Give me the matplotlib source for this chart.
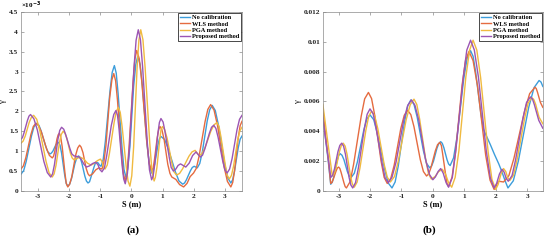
import matplotlib
matplotlib.use("Agg")
import matplotlib.pyplot as plt

plt.rcParams['font.family'] = ['Liberation Serif', 'DejaVu Serif']
plt.rcParams['font.weight'] = 'bold'
plt.rcParams['axes.unicode_minus'] = False

labels = ["No calibration", "WLS method", "PGA method", "Proposed method"]
colors = ['#3C9DDB', '#E56B40', '#F0BA40', '#9B55B4']

# panel (a): (S, gamma x 1e3)
a_blue = [(-3.56, 0.42), (-3.47, 0.51), (-3.39, 0.74), (-3.22, 1.38), (-3.14, 1.61), (-3.05, 1.70),
          (-2.98, 1.65), (-2.91, 1.51), (-2.76, 1.12), (-2.69, 0.98), (-2.62, 0.93),
          (-2.58, 0.95), (-2.53, 1.00), (-2.44, 1.15), (-2.40, 1.20), (-2.35, 1.22),
          (-2.30, 1.15), (-2.25, 0.95), (-2.15, 0.40), (-2.10, 0.19), (-2.05, 0.12),
          (-1.99, 0.17), (-1.93, 0.31), (-1.82, 0.69), (-1.76, 0.83), (-1.70, 0.88),
          (-1.65, 0.83), (-1.60, 0.71), (-1.50, 0.37), (-1.45, 0.25), (-1.40, 0.20),
          (-1.35, 0.23), (-1.31, 0.33), (-1.21, 0.59), (-1.17, 0.68), (-1.12, 0.72),
          (-1.07, 0.70), (-1.03, 0.65), (-0.98, 0.62),
          (-0.91, 0.79), (-0.84, 1.25), (-0.69, 2.52), (-0.62, 2.98), (-0.55, 3.15),
          (-0.49, 2.96), (-0.43, 2.45), (-0.30, 1.05), (-0.24, 0.54), (-0.18, 0.35),
          (-0.12, 0.55), (-0.05, 1.11), (0.07, 2.62), (0.14, 3.18), (0.20, 3.38),
          (0.28, 3.18), (0.35, 2.65), (0.50, 1.18), (0.58, 0.65), (0.65, 0.45),
          (0.70, 0.51), (0.75, 0.68), (0.85, 1.14), (0.90, 1.31), (0.95, 1.37),
          (1.07, 1.29), (1.18, 1.07), (1.42, 0.47), (1.53, 0.25), (1.65, 0.17),
          (1.71, 0.20), (1.77, 0.28), (1.90, 0.51), (1.96, 0.59), (2.02, 0.62), (2.12, 0.58),
          (2.20, 0.69), (2.28, 0.97), (2.44, 1.76), (2.52, 2.04), (2.60, 2.15),
          (2.70, 2.02), (2.80, 1.66), (3.00, 0.69), (3.10, 0.33), (3.20, 0.20),
          (3.26, 0.28), (3.32, 0.50), (3.44, 1.09), (3.50, 1.30), (3.56, 1.38)]

a_orange = [(-3.56, 0.55), (-3.48, 0.63), (-3.40, 0.84), (-3.24, 1.41), (-3.16, 1.62), (-3.08, 1.70),
            (-2.99, 1.64), (-2.90, 1.48), (-2.73, 1.05), (-2.64, 0.89), (-2.55, 0.83),
            (-2.51, 0.87), (-2.47, 0.99), (-2.40, 1.30), (-2.36, 1.41), (-2.32, 1.45),
            (-2.28, 1.36), (-2.23, 1.11), (-2.14, 0.44), (-2.10, 0.19), (-2.05, 0.10),
            (-1.99, 0.17), (-1.92, 0.36), (-1.80, 0.89), (-1.73, 1.08), (-1.67, 1.15),
            (-1.62, 1.10), (-1.56, 0.96), (-1.46, 0.57), (-1.40, 0.43), (-1.35, 0.38),
            (-1.25, 0.43), (-1.15, 0.53), (-1.05, 0.58), (-0.95, 0.55),
            (-0.89, 0.71), (-0.82, 1.15), (-0.70, 2.35), (-0.63, 2.79), (-0.57, 2.95),
            (-0.51, 2.77), (-0.45, 2.28), (-0.32, 0.93), (-0.26, 0.43), (-0.20, 0.25),
            (-0.14, 0.47), (-0.08, 1.07), (0.05, 2.71), (0.11, 3.31), (0.17, 3.53),
            (0.25, 3.33), (0.33, 2.77), (0.49, 1.26), (0.57, 0.70), (0.65, 0.50),
            (0.70, 0.58), (0.74, 0.78), (0.83, 1.34), (0.88, 1.55), (0.92, 1.62),
            (0.98, 1.54), (1.05, 1.30), (1.17, 0.67), (1.24, 0.44), (1.30, 0.35),
            (1.43, 0.29), (1.55, 0.16), (1.68, 0.10), (1.79, 0.19), (1.89, 0.36), (2.00, 0.45),
            (2.09, 0.57), (2.18, 0.88), (2.37, 1.74), (2.46, 2.05), (2.55, 2.17),
            (2.66, 2.03), (2.77, 1.65), (2.98, 0.62), (3.09, 0.24), (3.20, 0.10),
            (3.26, 0.21), (3.32, 0.51), (3.44, 1.34), (3.50, 1.64), (3.56, 1.75)]

a_yellow = [(-3.56, 1.20), (-3.49, 1.25), (-3.42, 1.38), (-3.29, 1.73), (-3.22, 1.85), (-3.15, 1.90),
            (-3.05, 1.80), (-2.95, 1.51), (-2.75, 0.74), (-2.65, 0.45), (-2.55, 0.35),
            (-2.49, 0.43), (-2.43, 0.64), (-2.32, 1.21), (-2.26, 1.42), (-2.20, 1.50),
            (-2.14, 1.45), (-2.08, 1.32), (-1.97, 0.96), (-1.91, 0.83), (-1.85, 0.78),
            (-1.78, 0.80), (-1.72, 0.83), (-1.65, 0.85), (-1.53, 0.80), (-1.42, 0.70), (-1.30, 0.65),
            (-1.20, 0.69), (-1.10, 0.76), (-1.00, 0.80), (-0.95, 0.74), (-0.90, 0.61), (-0.85, 0.55),
            (-0.78, 0.65), (-0.71, 0.94), (-0.56, 1.71), (-0.49, 2.00), (-0.42, 2.10),
            (-0.36, 1.97), (-0.30, 1.61), (-0.17, 0.62), (-0.11, 0.25), (-0.05, 0.12),
            (0.01, 0.38), (0.07, 1.10), (0.18, 3.07), (0.24, 3.79), (0.30, 4.05),
            (0.37, 3.80), (0.44, 3.10), (0.59, 1.20), (0.66, 0.50), (0.73, 0.25),
            (0.77, 0.34), (0.82, 0.59), (0.91, 1.28), (0.95, 1.53), (1.00, 1.62),
            (1.07, 1.54), (1.15, 1.32), (1.30, 0.71), (1.37, 0.48), (1.45, 0.40),
            (1.55, 0.44), (1.65, 0.56), (1.85, 0.87), (1.95, 0.98), (2.05, 1.02), (2.18, 0.88),
            (2.27, 0.94), (2.37, 1.09), (2.56, 1.51), (2.66, 1.66), (2.75, 1.72),
            (2.82, 1.62), (2.88, 1.37), (3.02, 0.66), (3.08, 0.40), (3.15, 0.30),
            (3.22, 0.39), (3.29, 0.63), (3.42, 1.28), (3.49, 1.51), (3.56, 1.60)]

a_purple = [(-3.56, 1.30), (-3.51, 1.34), (-3.46, 1.46), (-3.35, 1.77), (-3.30, 1.88), (-3.25, 1.92),
            (-3.14, 1.81), (-3.03, 1.53), (-2.82, 0.74), (-2.71, 0.46), (-2.60, 0.35),
            (-2.54, 0.43), (-2.48, 0.66), (-2.37, 1.29), (-2.31, 1.52), (-2.25, 1.60),
            (-2.18, 1.55), (-2.12, 1.42), (-1.98, 1.06), (-1.92, 0.93), (-1.85, 0.88), (-1.70, 0.86),
            (-1.62, 0.80), (-1.53, 0.67), (-1.45, 0.60), (-1.35, 0.63), (-1.25, 0.69), (-1.15, 0.72),
            (-1.08, 0.66), (-1.02, 0.54), (-0.95, 0.48),
            (-0.87, 0.58), (-0.80, 0.87), (-0.65, 1.64), (-0.57, 1.92), (-0.50, 2.02),
            (-0.45, 1.90), (-0.40, 1.56), (-0.30, 0.64), (-0.25, 0.30), (-0.20, 0.18),
            (-0.13, 0.44), (-0.06, 1.15), (0.08, 3.08), (0.15, 3.79), (0.22, 4.05),
            (0.29, 3.80), (0.36, 3.11), (0.51, 1.22), (0.58, 0.53), (0.65, 0.28),
            (0.70, 0.38), (0.75, 0.67), (0.85, 1.44), (0.90, 1.72), (0.95, 1.82),
            (1.02, 1.73), (1.08, 1.49), (1.22, 0.83), (1.28, 0.59), (1.35, 0.50),
            (1.43, 0.55), (1.50, 0.64), (1.58, 0.68), (1.75, 0.60),
            (1.86, 0.70), (1.97, 0.89), (2.08, 0.98), (2.22, 0.85),
            (2.29, 0.90), (2.36, 1.05), (2.51, 1.45), (2.58, 1.60), (2.65, 1.65),
            (2.72, 1.57), (2.79, 1.35), (2.94, 0.75), (3.01, 0.53), (3.08, 0.45),
            (3.16, 0.55), (3.24, 0.81), (3.40, 1.54), (3.48, 1.80), (3.56, 1.90)]

# panel (b): (S, gamma x 1e3)
b_blue = [(-3.50, 5.20), (-3.42, 3.62), (-3.33, 2.03), (-3.25, 0.45),
          (-3.20, 0.59), (-3.15, 0.96), (-3.05, 1.99), (-3.00, 2.36), (-2.95, 2.50),
          (-2.89, 2.39), (-2.83, 2.10), (-2.72, 1.30), (-2.66, 1.01), (-2.60, 0.90),
          (-2.50, 1.18), (-2.40, 1.95), (-2.20, 4.05), (-2.10, 4.82), (-2.00, 5.10),
          (-1.88, 4.77), (-1.77, 3.88), (-1.53, 1.43), (-1.42, 0.53), (-1.30, 0.20),
          (-1.20, 0.60), (-1.10, 1.68), (-0.90, 4.63), (-0.80, 5.70), (-0.70, 6.10),
          (-0.60, 5.80), (-0.50, 4.96), (-0.30, 2.69), (-0.20, 1.85), (-0.10, 1.55),
          (-0.04, 1.67), (0.02, 1.99), (0.13, 2.86), (0.19, 3.18), (0.25, 3.30),
          (0.30, 3.19), (0.35, 2.90), (0.45, 2.10), (0.50, 1.81), (0.55, 1.70),
          (0.66, 2.22), (0.77, 3.63), (0.98, 7.48), (1.09, 8.88), (1.20, 9.40),
          (1.28, 9.02), (1.36, 7.99), (1.53, 5.16), (1.61, 4.13), (1.69, 3.75),
          (1.83, 3.10), (1.96, 2.45), (2.10, 1.80), (2.20, 1.27), (2.29, 0.73), (2.39, 0.20),
          (2.56, 0.68), (2.72, 2.00), (3.05, 5.60), (3.22, 6.92), (3.38, 7.40),
          (3.44, 7.30), (3.50, 7.00)]

b_orange = [(-3.50, 5.50), (-3.42, 3.83), (-3.33, 2.17), (-3.25, 0.50),
            (-3.21, 0.57), (-3.17, 0.78), (-3.08, 1.33), (-3.04, 1.53), (-3.00, 1.60),
            (-2.96, 1.51), (-2.92, 1.25), (-2.83, 0.55), (-2.79, 0.29), (-2.75, 0.20),
            (-2.63, 0.63), (-2.52, 1.80), (-2.28, 5.00), (-2.17, 6.17), (-2.05, 6.60),
            (-1.95, 6.19), (-1.85, 5.08), (-1.65, 2.03), (-1.55, 0.91), (-1.45, 0.50),
            (-1.34, 0.83), (-1.23, 1.73), (-1.02, 4.18), (-0.91, 5.07), (-0.80, 5.40),
            (-0.70, 5.11), (-0.60, 4.30), (-0.40, 2.10), (-0.30, 1.30), (-0.20, 1.00),
            (-0.13, 1.15), (-0.06, 1.56), (0.08, 2.69), (0.15, 3.10), (0.22, 3.25),
            (0.27, 3.05), (0.31, 2.51), (0.41, 1.04), (0.45, 0.50), (0.50, 0.30),
            (0.61, 0.91), (0.72, 2.56), (0.93, 7.09), (1.04, 8.74), (1.15, 9.35),
            (1.28, 8.73), (1.42, 7.04), (1.68, 2.41), (1.82, 0.72), (1.95, 0.10),
            (2.00, 0.24), (2.05, 0.51), (2.10, 0.65), (2.25, 0.60),
            (2.42, 1.03), (2.58, 2.19), (2.92, 5.36), (3.08, 6.52), (3.25, 6.95),
            (3.29, 6.86), (3.33, 6.61), (3.42, 5.94), (3.50, 5.60)]

b_yellow = [(-3.50, 5.80), (-3.40, 4.20), (-3.30, 2.60), (-3.20, 1.00),
            (-3.14, 1.15), (-3.08, 1.55), (-2.97, 2.65), (-2.91, 3.05), (-2.85, 3.20),
            (-2.79, 3.00), (-2.73, 2.46), (-2.62, 0.99), (-2.56, 0.45), (-2.50, 0.25),
            (-2.41, 0.59), (-2.32, 1.53), (-2.13, 4.08), (-2.04, 5.01), (-1.95, 5.35),
            (-1.85, 5.03), (-1.75, 4.16), (-1.55, 1.79), (-1.45, 0.92), (-1.35, 0.60),
            (-1.22, 0.97), (-1.10, 1.99), (-0.85, 4.76), (-0.72, 5.78), (-0.60, 6.15),
            (-0.51, 5.79), (-0.42, 4.81), (-0.23, 2.14), (-0.14, 1.16), (-0.05, 0.80),
            (0.07, 0.96), (0.18, 1.29), (0.30, 1.45), (0.40, 1.15), (0.50, 0.55), (0.60, 0.25),
            (0.71, 0.91), (0.83, 2.71), (1.05, 7.64), (1.17, 9.44), (1.28, 10.10),
            (1.40, 9.43), (1.52, 7.60), (1.76, 2.60), (1.88, 0.77), (2.00, 0.10),
            (2.08, 0.45), (2.17, 1.15), (2.25, 1.50), (2.32, 1.30), (2.38, 0.90), (2.45, 0.70),
            (2.57, 1.07), (2.68, 2.09), (2.92, 4.86), (3.03, 5.88), (3.15, 6.25),
            (3.21, 6.13), (3.27, 5.81), (3.38, 4.94), (3.50, 4.50)]

b_purple = [(-3.50, 4.90), (-3.42, 3.57), (-3.33, 2.23), (-3.25, 0.90),
            (-3.19, 1.05), (-3.13, 1.48), (-3.02, 2.63), (-2.96, 3.05), (-2.90, 3.20),
            (-2.84, 3.00), (-2.78, 2.45), (-2.67, 0.95), (-2.61, 0.40), (-2.55, 0.20),
            (-2.46, 0.56), (-2.37, 1.53), (-2.18, 4.18), (-2.09, 5.14), (-2.00, 5.50),
            (-1.90, 5.17), (-1.81, 4.26), (-1.61, 1.79), (-1.52, 0.88), (-1.42, 0.55),
            (-1.30, 0.92), (-1.17, 1.94), (-0.93, 4.71), (-0.80, 5.73), (-0.68, 6.10),
            (-0.57, 5.74), (-0.45, 4.76), (-0.23, 2.09), (-0.11, 1.11), (0.00, 0.75),
            (0.08, 0.94), (0.17, 1.31), (0.25, 1.50), (0.33, 1.19), (0.42, 0.56), (0.50, 0.25),
            (0.62, 0.91), (0.73, 2.71), (0.97, 7.64), (1.08, 9.44), (1.20, 10.10),
            (1.32, 9.44), (1.45, 7.63), (1.70, 2.68), (1.83, 0.86), (1.95, 0.20),
            (2.03, 0.51), (2.12, 1.14), (2.20, 1.45), (2.27, 1.25), (2.33, 0.85), (2.40, 0.65),
            (2.52, 1.03), (2.63, 2.06), (2.87, 4.89), (2.98, 5.92), (3.10, 6.30),
            (3.17, 6.16), (3.23, 5.78), (3.37, 4.73), (3.50, 4.20)]

a_yticks = [0, 0.5, 1, 1.5, 2, 2.5, 3, 3.5, 4, 4.5]
a_ytick_labels = ["0", "0.5", "1", "1.5", "2", "2.5", "3", "3.5", "4", "4.5"]
b_yticks = [0, 0.002, 0.004, 0.006, 0.008, 0.01, 0.012]
b_ytick_labels = ["0", "0.002", "0.004", "0.006", "0.008", "0.01", "0.012"]
xticks = [-3, -2, -1, 0, 1, 2, 3]

fig = plt.figure(figsize=(5.5, 2.42), dpi=100)
ax_a = fig.add_axes([0.038, 0.211, 0.402, 0.740])
ax_b = fig.add_axes([0.587, 0.211, 0.400, 0.740])


def style_axes(ax):
    for sp in ax.spines.values():
        sp.set_linewidth(0.5)
        sp.set_color('#8a8a8a')
    ax.tick_params(direction='in', length=2, width=0.5, colors='#8a8a8a', labelcolor='#222222',
                   labelsize=5.3, top=True, right=True, pad=2)
    for lbl in ax.get_xticklabels() + ax.get_yticklabels():
        lbl.set_fontweight('bold')
    ax.set_xlabel("S (m)", fontsize=6, fontweight='bold', labelpad=1)
    ax.set_ylabel("γ", fontsize=6, labelpad=1)
    leg = ax.legend(loc='upper right', fontsize=4.6, handlelength=1.6, handletextpad=0.3,
                    labelspacing=0.15, borderpad=0.3, borderaxespad=0.15, fancybox=False,
                    framealpha=1)
    leg.get_frame().set_edgecolor('black')
    leg.get_frame().set_linewidth(0.5)


for pts, c, lab in zip([a_blue, a_orange, a_yellow, a_purple], colors, labels):
    s, y = zip(*pts)
    ax_a.plot(s, y, color=c, lw=1.0, label=lab)
ax_a.set_xlim(-3.56, 3.56)
ax_a.set_ylim(0, 4.5)
ax_a.set_xticks(xticks)
ax_a.set_yticks(a_yticks)
ax_a.set_yticklabels(a_ytick_labels)
style_axes(ax_a)
ax_a.text(0.0, 1.005, "×10$^{-3}$", transform=ax_a.transAxes, fontsize=5, va='bottom', ha='left')

for pts, c, lab in zip([b_blue, b_orange, b_yellow, b_purple], colors, labels):
    s, y = zip(*pts)
    ax_b.plot(s, [v / 1000 for v in y], color=c, lw=1.0, label=lab)
ax_b.set_xlim(-3.5, 3.5)
ax_b.set_ylim(0, 0.012)
ax_b.set_xticks(xticks)
ax_b.set_yticks(b_yticks)
ax_b.set_yticklabels(b_ytick_labels)
style_axes(ax_b)

fig.text(133 / 550, 1 - 230 / 242, "(a)", fontsize=8, fontweight='bold', ha='center', va='center')
fig.text(429 / 550, 1 - 230 / 242, "(b)", fontsize=8, fontweight='bold', ha='center', va='center')

fig.savefig("out.png", dpi=100)
